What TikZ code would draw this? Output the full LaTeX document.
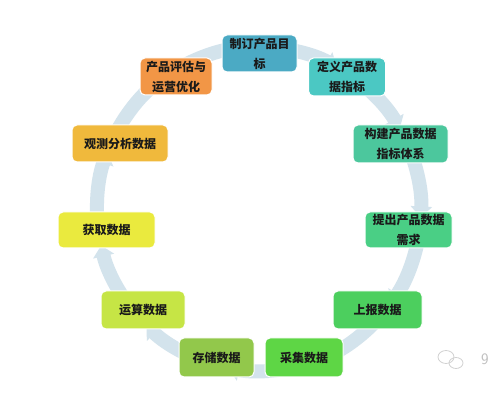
\documentclass[tikz,border=0pt]{standalone}
\usepackage{fontspec}
\newfontfamily\cjk{Noto Sans CJK SC}
\usetikzlibrary{arrows.meta}
\definecolor{ringc}{HTML}{D3E3EC}
\definecolor{cA}{HTML}{4BAAC4}
\definecolor{cB}{HTML}{4BC8C3}
\definecolor{cC}{HTML}{4CC79D}
\definecolor{cD}{HTML}{4ACF85}
\definecolor{cE}{HTML}{4CCF5E}
\definecolor{cF}{HTML}{5ED645}
\definecolor{cG}{HTML}{92C84B}
\definecolor{cH}{HTML}{C6E545}
\definecolor{cI}{HTML}{EAEA3E}
\definecolor{cJ}{HTML}{F0B93C}
\definecolor{cK}{HTML}{F29646}
\definecolor{txt}{HTML}{1A1A1A}
\begin{document}
\begin{tikzpicture}[x=1pt,y=1pt,
  box/.style={rounded corners=5pt, draw=white, line width=1pt, align=center,
    inner sep=0pt, text=txt, font=\cjk\bfseries\fontsize{12}{20}\selectfont},
  cyc/.style={ringc, line width=14pt, -{Triangle[width=21pt,length=11pt]}}]
\useasboundingbox (0,0) rectangle (492,401);
\fill[white] (0,0) rectangle (492,401);
% ring arrows (clockwise)
\foreach \s/\e in {122/90, 90/56.3, 56.3/24.7, 24.7/-8, -8/-40.6, -40.6/-73, -73/-106, -106/-139, -139/-172, -172/-205.4, -205.4/-238}
  \draw[cyc] (259,192) ++({\s-1}:162) arc[start angle={\s-1}, end angle={\e+5}, radius=162];
% boxes
\node[box, fill=cA, minimum width=75pt, minimum height=37pt] (n1) at (259.5,347.5) {制订产品目\\标};
\node[box, fill=cB, minimum width=77pt, minimum height=38pt] (n2) at (347,324) {定义产品数\\据指标};
\node[box, fill=cC, minimum width=95pt, minimum height=38pt] (n3) at (400.5,257) {构建产品数据\\指标体系};
\node[box, fill=cD, minimum width=87pt, minimum height=36pt] (n4) at (408.5,171) {提出产品数据\\需求};
\node[box, fill=cE, minimum width=89pt, minimum height=38pt] (n5) at (377.5,91) {上报数据};
\node[box, fill=cF, minimum width=78pt, minimum height=39pt] (n6) at (304,43.5) {采集数据};
\node[box, fill=cG, minimum width=75pt, minimum height=39pt] (n7) at (216.5,43.5) {存储数据};
\node[box, fill=cH, minimum width=84pt, minimum height=38pt] (n8) at (143,91) {运算数据};
\node[box, fill=cI, minimum width=97pt, minimum height=36pt] (n9) at (106.5,171) {获取数据};
\node[box, fill=cJ, minimum width=96pt, minimum height=37pt] (n10) at (120,257.5) {观测分析数据};
\node[box, fill=cK, minimum width=72pt, minimum height=37pt] (n11) at (176,324.5) {产品评估与\\运营优化};
% watermark
\draw[black!18, line width=0.8pt] (446,44) ellipse[x radius=8pt, y radius=6.5pt];
\draw[black!18, line width=0.8pt] (456,38) ellipse[x radius=7pt, y radius=5.5pt];
\node[text=black!25, font=\sffamily\fontsize{16}{16}\selectfont, inner sep=0pt] (wm) at (485,42) {9};
\end{tikzpicture}
\end{document}
